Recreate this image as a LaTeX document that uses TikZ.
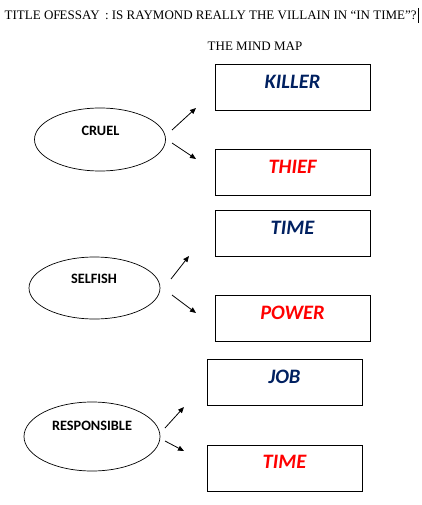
\documentclass[tikz,border=0pt]{standalone}
\usepackage{fontspec}
\setmainfont{Liberation Serif}
\newfontfamily\carlitofont{Carlito}
\usetikzlibrary{shapes.geometric,arrows.meta}
\definecolor{navy}{HTML}{002060}
\definecolor{redtxt}{HTML}{FF0000}
\tikzset{
  box/.style={draw, line width=0.9pt, minimum width=155pt, minimum height=46pt, inner sep=0pt},
  boxtxt/.style={font=\carlitofont\fontsize{20.5}{22}\selectfont\bfseries\itshape, anchor=center, inner sep=0pt},
  oval/.style={draw, line width=0.7pt, ellipse, inner sep=0pt},
  ovaltxt/.style={font=\carlitofont\fontsize{14.3}{15}\selectfont\bfseries, inner sep=0pt},
  arr/.style={-{Triangle[length=6pt,width=5pt]}, line width=0.8pt},
  plain/.style={font=\fontsize{13}{14}\selectfont, inner sep=0pt}
}
\begin{document}
\begin{tikzpicture}[x=1pt,y=-1pt]
\useasboundingbox (0,0) rectangle (421,505);
% title
\node[plain, anchor=west] (title) at (4.5,15) {TITLE OF\hspace{-1pt}ESSAY\, : IS RAYMOND REALLY THE VILLAIN IN “IN TIME”?};
\draw[line width=1.2pt] (title.east) ++(1.5,-7) -- ++(0,15);
\node[plain, anchor=west] (mm) at (207.5,46) {THE MIND MAP};
% boxes
\node[box] (b1) at (292.5,87) {};
\node[boxtxt, text=navy] (t1) at (292.5,81.5) {KILLER};
\node[box] (b2) at (292.5,172) {};
\node[boxtxt, text=redtxt] (t2) at (292.5,166.5) {THIEF};
\node[box] (b3) at (292.5,233) {};
\node[boxtxt, text=navy] (t3) at (292.5,227.5) {TIME};
\node[box] (b4) at (292.5,318) {};
\node[boxtxt, text=redtxt] (t4) at (292.5,312.5) {POWER};
\node[box] (b5) at (284.5,382) {};
\node[boxtxt, text=navy] (t5) at (284.5,376.5) {JOB};
\node[box] (b6) at (284.5,468) {};
\node[boxtxt, text=redtxt] (t6) at (284.5,462) {TIME};
% ellipses
\node[oval, minimum width=131pt, minimum height=63pt] (e1) at (100,139.5) {};
\node[ovaltxt] (l1) at (100.5,131) {CRUEL};
\node[oval, minimum width=131pt, minimum height=62pt] (e2) at (94.5,288) {};
\node[ovaltxt] (l2) at (94,279) {SELFISH};
\node[oval, minimum width=136pt, minimum height=69pt] (e3) at (92,436.5) {};
\node[ovaltxt] (l3) at (92,426) {RESPONSIBLE};
% arrows
\coordinate (a1s) at (172,130); \coordinate (a1e) at (196,108);
\coordinate (a2s) at (172,143); \coordinate (a2e) at (196,159);
\coordinate (a3s) at (171,279); \coordinate (a3e) at (189,256);
\coordinate (a4s) at (172,295); \coordinate (a4e) at (196,313);
\coordinate (a5s) at (165,428); \coordinate (a5e) at (184,407);
\coordinate (a6s) at (165,441); \coordinate (a6e) at (184,451);
\draw[arr] (a1s) -- (a1e);
\draw[arr] (a2s) -- (a2e);
\draw[arr] (a3s) -- (a3e);
\draw[arr] (a4s) -- (a4e);
\draw[arr] (a5s) -- (a5e);
\draw[arr] (a6s) -- (a6e);
\end{tikzpicture}
\end{document}
